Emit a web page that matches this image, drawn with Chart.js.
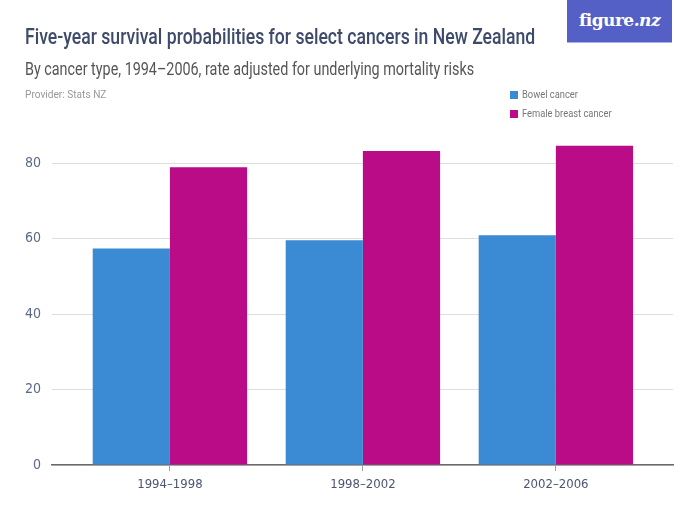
<!DOCTYPE html>
<html>
<head>
<meta charset="utf-8">
<script src="https://cdn.jsdelivr.net/npm/chart.js@4/dist/chart.umd.min.js"></script>
<style>
  html, body { margin: 0; padding: 0; background: #fff; }
  #wrap { position: relative; width: 700px; height: 525px; overflow: hidden; font-family: Roboto, 'DejaVu Sans Condensed', sans-serif; }
  #c { position: absolute; left: 0; top: 0; }
  .fit { position: absolute; white-space: nowrap; transform-origin: 0 0; }
  .title { left: 25px; top: 24px; font-size: 22px; font-weight: 500; color: #3d4a6a; }
  .sub { left: 25px; top: 58px; font-size: 18px; color: #555; }
  .prov { left: 25px; top: 88px; font-size: 11px; color: #999; }
  .logo { position: absolute; left: 567px; top: 0; width: 105px; height: 42px; background: #5460c6;
          border-bottom: 1px solid #aab0e6; color: #fff; text-align: center; line-height: 40px;
          font-family: 'DejaVu Serif', 'Liberation Serif', serif; font-weight: bold; font-size: 17px; letter-spacing: -0.5px; }
  #legend { position: absolute; left: 510px; top: 85px; font-size: 11px; color: #777; }
  #legend div { height: 19px; display: flex; align-items: center; white-space: nowrap; }
  #legend span.box { width: 8px; height: 8px; margin-right: 4px; display: inline-block; }
</style>
</head>
<body>
<div id="wrap">
  <canvas id="c" width="700" height="525"></canvas>
  <div class="fit title" data-w="510">Five-year survival probabilities for select cancers in New Zealand</div>
  <div class="fit sub" data-w="449">By cancer type, 1994–2006, rate adjusted for underlying mortality risks</div>
  <div class="fit prov" data-w="81">Provider: Stats NZ</div>
  <div class="logo">figure<i>.nz</i></div>
  <div id="legend"></div>
</div>
<script>
const periods = ['1994–1998', '1998–2002', '2002–2006'];
const bowel = [57.4, 59.6, 60.9];
const breast = [78.9, 83.2, 84.6];
const yTicks = [0, 20, 40, 60, 80];

const font = "'DejaVu Sans Condensed', Roboto, sans-serif";

// squeeze header text to the condensed widths of the original
document.querySelectorAll('.fit').forEach(el => {
  el.style.transform = 'scaleX(' + (el.dataset.w / el.offsetWidth) + ')';
});

const htmlLegend = {
  id: 'htmlLegend',
  afterUpdate(chart) {
    const box = document.getElementById('legend');
    box.innerHTML = '';
    chart.data.datasets.forEach(ds => {
      const row = document.createElement('div');
      const sq = document.createElement('span');
      sq.className = 'box';
      sq.style.background = ds.backgroundColor;
      const txt = document.createElement('span');
      txt.textContent = ds.label;
      txt.style.display = 'inline-block';
      txt.style.transform = 'scaleX(0.85)';
      txt.style.transformOrigin = '0 50%';
      row.appendChild(sq);
      row.appendChild(txt);
      box.appendChild(row);
    });
  }
};

const ctx = document.getElementById('c').getContext('2d');

new Chart(ctx, {
  type: 'bar',
  data: {
    datasets: [
      {
        label: 'Bowel cancer',
        data: bowel.map((v, i) => ({ x: i, y: v })),
        backgroundColor: '#3a8ad4'
      },
      {
        label: 'Female breast cancer',
        data: breast.map((v, i) => ({ x: i, y: v })),
        backgroundColor: '#b90c86'
      }
    ]
  },
  options: {
    responsive: false,
    animation: false,
    layout: { padding: { left: 0, right: 27, top: 133, bottom: 0 } },
    datasets: { bar: { categoryPercentage: 0.8, barPercentage: 1.0 } },
    plugins: {
      legend: { display: false },
      tooltip: { enabled: false }
    },
    scales: {
      x: {
        type: 'linear',
        min: -0.611,
        max: 2.607,
        offset: false,
        afterBuildTicks: s => { s.ticks = periods.map((p, i) => ({ value: i })); },
        afterFit: s => { s.height = 60; },
        grid: { drawOnChartArea: false, drawTicks: true, tickLength: 6, tickColor: '#a0a0a0', offset: false },
        border: { display: true, color: '#6a6a6a', width: 1.5 },
        ticks: {
          callback: v => periods[v],
          maxRotation: 0,
          autoSkip: false,
          padding: 6,
          color: '#4b5572',
          font: { family: font, size: 13 }
        }
      },
      y: {
        min: 0,
        max: 88,
        afterBuildTicks: s => { s.ticks = yTicks.map(v => ({ value: v })); },
        afterFit: s => { s.width = 52; },
        grid: { color: '#dedede', lineWidth: 1, drawTicks: false },
        border: { display: false },
        ticks: {
          padding: 11,
          color: '#5b6886',
          font: { family: font, size: 14 }
        }
      }
    }
  },
  plugins: [htmlLegend]
});
</script>
</body>
</html>
